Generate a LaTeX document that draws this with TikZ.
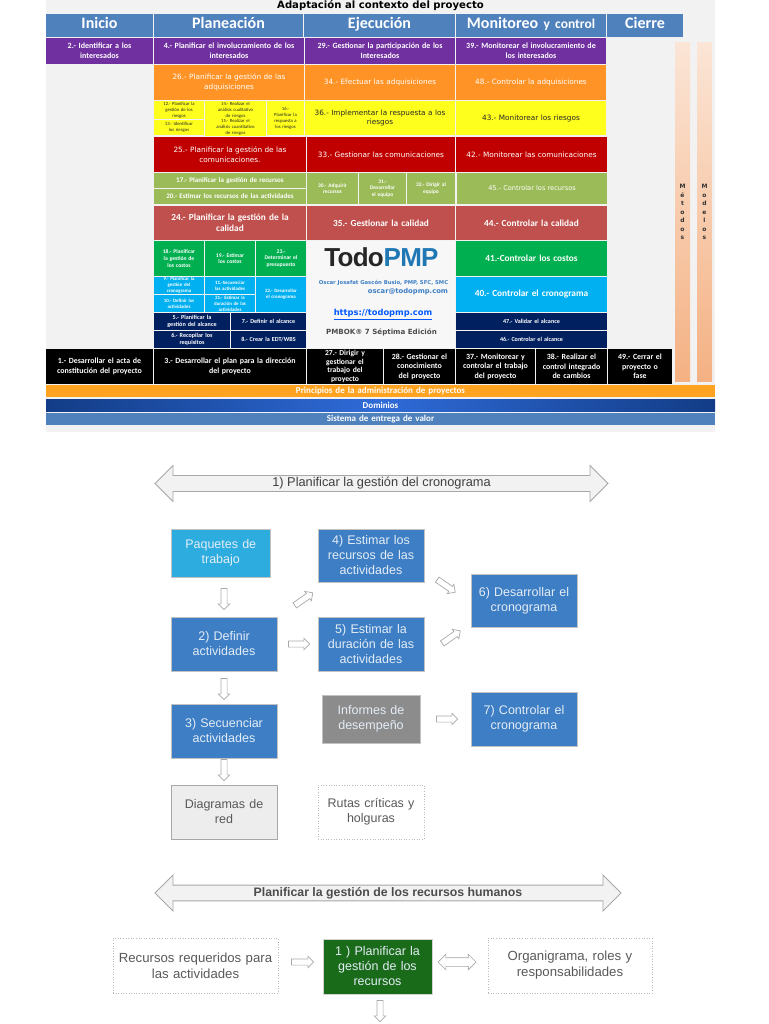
\documentclass[tikz,border=0pt]{standalone}
\usepackage{fontspec}
\setmainfont{Liberation Sans}
\newfontfamily\dvf{DejaVu Sans}
\newfontfamily\cbf{Carlito}
\usetikzlibrary{shapes.arrows}
\definecolor{hdr}{HTML}{4F81BD}
\definecolor{purp}{HTML}{7030A0}
\definecolor{orng}{HTML}{FF9326}
\definecolor{yell}{HTML}{FFFF1E}
\definecolor{redd}{HTML}{C00000}
\definecolor{lgrn}{HTML}{9BBB59}
\definecolor{brck}{HTML}{C0504D}
\definecolor{grn}{HTML}{00B050}
\definecolor{sky}{HTML}{00B0F0}
\definecolor{navy}{HTML}{002060}
\definecolor{flow}{HTML}{3D7EC4}
\definecolor{line}{HTML}{A8A8A8}
\definecolor{barend}{HTML}{123C86}
\definecolor{barmid}{HTML}{2F6BD8}
\definecolor{vtop}{HTML}{FBE5D6}
\definecolor{vbot}{HTML}{F4B183}
\definecolor{pale}{HTML}{E4EDF6}
\newcommand{\fsz}[2]{\fontsize{#1}{#2}\selectfont}
\newcommand{\cellbox}[7]{%
  \pgfmathsetmacro\cwd{#4-#2}\pgfmathsetmacro\cht{#5-#3}%
  \node[cellbase,#6,minimum width=\cwd pt,minimum height=\cht pt,text width=\cwd pt-3pt] (#1) at ({(#2+#4)/2},{(#3+#5)/2}) {#7};}
\tikzset{
  cellbase/.style={inner sep=0pt,outer sep=0pt,align=center,text=white},
  hd/.style={fill=hdr,font=\cbf\bfseries\fsz{16}{18},text height=10.5pt,text depth=3.5pt},
  dv/.style={font=\dvf\fsz{#1}{\fpeval{#1*1.35}}},
  cb/.style={font=\cbf\bfseries\fsz{#1}{\fpeval{#1*1.2}}},
  flowbox/.style={cellbase,fill=flow,draw=line!70,line width=.4pt,text=pale,font=\fsz{12.5}{15}},
  plainbox/.style={cellbase,text=black!65,font=\fsz{12.5}{15}},
  dotbox/.style={draw=line!80,dotted,line width=.6pt},
  blockarrow/.style={single arrow,draw=line,fill=white,line width=.7pt,inner sep=0pt,outer sep=0pt,single arrow head extend=2.6pt,single arrow tip angle=90},
  bigarrow/.style={double arrow,draw=line,fill=black!5,line width=.8pt,inner sep=0pt,outer sep=0pt,double arrow head extend=8pt,double arrow tip angle=90,minimum width=36pt},
}
\newcommand{\shaft}{\rule{0pt}{5.5pt}}
\begin{document}
\begin{tikzpicture}[x=1pt,y=-1pt]
\useasboundingbox (0,0) rectangle (768,1024);
\fill[black!5] (46,0) rectangle (715,432);
\node[inner sep=0pt,font=\dvf\bfseries\fsz{10.1}{12}] (title) at (380.5,6) {Adaptación al contexto del proyecto};
% headers
\cellbox{hA}{46}{14}{153}{37}{hd}{Inicio}
\cellbox{hB}{154}{14}{303}{37}{hd}{Planeación}
\cellbox{hC}{304}{14}{455}{37}{hd}{Ejecución}
\cellbox{hD}{456}{14}{606}{37}{hd}{Monitoreo {\fsz{13.5}{18}y control}}
\cellbox{hE}{607}{14}{683}{37}{hd}{Cierre}
% purple
\cellbox{p2}{46}{38}{153}{64}{fill=purp,cb=8}{2.- Identificar a los\\interesados}
\cellbox{p4}{154}{38}{304}{64}{fill=purp,cb=8}{4.- Planificar el involucramiento de los\\interesados}
\cellbox{p29}{305}{38}{455}{64}{fill=purp,cb=8}{29.- Gestionar la participación de los\\Interesados}
\cellbox{p39}{456}{38}{606}{64}{fill=purp,cb=8}{39.- Monitorear el involucramiento de\\los interesados}
% orange
\cellbox{o26}{154}{65}{304}{100}{fill=orng,dv=7.3}{26.- Planificar la gestión de las\\adquisiciones}
\cellbox{o34}{305}{65}{455}{100}{fill=orng,dv=7.3}{34.- Efectuar las adquisiciones}
\cellbox{o48}{456}{65}{606}{100}{fill=orng,dv=7.3}{48.- Controlar la adquisiciones}
% yellow
\tikzset{ys/.style={fill=yell,text=black!85,font=\cbf\fsz{4.7}{6}}}
\cellbox{y12}{154}{101}{204}{119}{ys}{12.- Planificar la\\gestión de los\\riesgos}
\cellbox{y13}{154}{120}{204}{135}{ys}{13.- Identificar\\los riesgos}
\cellbox{y14}{205}{101}{266}{119}{ys}{14.- Realizar el\\análisis cualitativo\\de riesgos}
\cellbox{y15}{205}{120}{266}{135}{ys}{15.- Realizar el\\análisis cuantitativo\\de riesgos}
\cellbox{y16}{267}{101}{304}{135}{ys}{16.-\\Planificar la\\respuesta a\\los riesgos}
\cellbox{y36}{305}{101}{455}{135}{fill=yell,text=black!85,dv=7.3}{36.- Implementar la respuesta a los\\riesgos}
\cellbox{y43}{456}{101}{606}{135}{fill=yell,text=black!85,dv=7.3}{43.- Monitorear los riesgos}
% red
\cellbox{r25}{154}{137}{306}{172}{fill=redd,dv=7.3}{25.- Planificar la gestión de las\\comunicaciones.}
\cellbox{r33}{307}{137}{455}{172}{fill=redd,dv=7.3}{33.- Gestionar las comunicaciones}
\cellbox{r42}{456}{137}{607}{172}{fill=redd,dv=7.3}{42.- Monitorear las comunicaciones}
% light green
\cellbox{g17}{154}{173}{306}{188}{fill=lgrn,cb=7}{17.- Planificar la gestión de recursos}
\cellbox{g20}{154}{189}{306}{204}{fill=lgrn,cb=7}{20.- Estimar los recursos de las actividades}
\cellbox{g30}{307}{173}{358}{204}{fill=lgrn,cb=5.4}{30.- Adquirir\\recursos}
\cellbox{g31}{359}{173}{406}{204}{fill=lgrn,cb=5.4}{31.-\\Desarrollar\\el equipo}
\cellbox{g32}{407}{173}{455}{204}{fill=lgrn,cb=5.4}{32.- Dirigir al\\equipo}
\cellbox{g45}{457}{173}{607}{204}{fill=lgrn,dv=6.6}{45.- Controlar los recursos}
% brick
\cellbox{b24}{154}{206}{306}{240}{fill=brck,cb=9.3}{24.- Planificar la gestión de la\\calidad}
\cellbox{b35}{307}{206}{455}{240}{fill=brck,cb=9.3}{35.- Gestionar la calidad}
\cellbox{b44}{456}{206}{607}{240}{fill=brck,cb=9.3}{44.- Controlar la calidad}
% costs
\cellbox{c18}{154}{241}{204}{276}{fill=grn,cb=5.6}{18.- Planificar\\la gestión de\\los costos}
\cellbox{c19}{205}{241}{255}{276}{fill=grn,cb=5.6}{19.- Estimar\\los costos}
\cellbox{c23}{256}{241}{306}{276}{fill=grn,cb=5.6}{23.-\\Determinar el\\presupuesto}
\cellbox{c41}{456}{241}{607}{276}{fill=grn,cb=9.3}{41.-Controlar los costos}
% schedule
\tikzset{sk/.style={fill=sky,cb=4.9}}
\cellbox{s9}{154}{277}{204}{294}{sk}{9.- Planificar la\\gestión del\\cronograma}
\cellbox{s10}{154}{295}{204}{312}{sk}{10.- Definir las\\actividades}
\cellbox{s11}{205}{277}{255}{294}{sk}{11.-Secuenciar\\las actividades}
\cellbox{s21}{205}{295}{255}{312}{sk}{21.- Estimar la\\duración de las\\actividades}
\cellbox{s22}{256}{277}{306}{312}{sk}{22.- Desarrollar\\el cronograma}
\cellbox{s40}{456}{277}{607}{312}{fill=sky,cb=9.3}{40.- Controlar el cronograma}
% scope
\tikzset{nv/.style={fill=navy,cb=6.1}}
\cellbox{n5}{154}{313}{230}{330}{nv}{5.- Planificar la\\gestión del alcance}
\cellbox{n6}{154}{331}{230}{348}{nv}{6.- Recopilar los\\requisitos}
\cellbox{n7}{231}{313}{306}{330}{nv}{7.- Definir el alcance}
\cellbox{n8}{231}{331}{306}{348}{nv}{8.- Crear la EDT/WBS}
\cellbox{n47}{456}{313}{607}{330}{nv}{47.- Validar el alcance}
\cellbox{n46}{456}{331}{607}{348}{nv}{46.- Controlar el alcance}
% logo panel
\fill[white!97!black] (307,241) rectangle (455,348);
\node[inner sep=0pt,font=\bfseries\fsz{26}{28}\addfontfeature{LetterSpace=-3}] (logo) at (381.5,257.5) {\textcolor{black!85}{Todo}\textcolor[HTML]{1F77B4}{PMP}};
\node[inner sep=0pt,text=flow,font=\dvf\bfseries\fsz{5.3}{6}] (auth) at (383.5,283) {Oscar Josafat Gascón Busio, PMP, SFC, SMC};
\node[inner sep=0pt,text=flow,font=\dvf\bfseries\fsz{6.8}{8}] (mail) at (408,292) {oscar@todopmp.com};
\node[inner sep=0pt,text=blue!65!cyan,font=\dvf\bfseries\fsz{8.3}{10}] (url) at (383,314.5) {\underline{https://todopmp.com}};
\node[inner sep=0pt,text=black!70,font=\dvf\bfseries\fsz{7.1}{8}] (ed) at (381.5,332) {PMBOK® 7 Séptima Edición};
% black
\tikzset{bk/.style={fill=black,cb=7.9}}
\cellbox{k1}{46}{349}{153}{384}{bk}{1.- Desarrollar el acta de\\constitución del proyecto}
\cellbox{k3}{154}{349}{306}{384}{bk}{3.- Desarrollar el plan para la dirección\\del proyecto}
\cellbox{k27}{307}{349}{383}{384}{fill=black,font=\cbf\bfseries\fsz{7.6}{8.6}}{27.- Dirigir y\\gestionar el\\trabajo del\\proyecto}
\cellbox{k28}{384}{349}{455}{384}{bk}{28.- Gestionar el\\conocimiento\\del proyecto}
\cellbox{k37}{456}{349}{535}{384}{bk}{37.- Monitorear y\\controlar el trabajo\\del proyecto}
\cellbox{k38}{536}{349}{607}{384}{bk}{38.- Realizar el\\control integrado\\de cambios}
\cellbox{k49}{608}{349}{672}{384}{bk}{49.- Cerrar el\\proyecto o\\fase}
% bars
\tikzset{barfont/.style={font=\cbf\bfseries\fsz{9}{10}}}
\cellbox{barA}{46}{385}{715}{397}{fill=orng!85!yellow,barfont}{Principios de la administración de proyectos}
\cellbox{barB}{46}{399}{715}{411}{left color=barend,right color=barend,middle color=barmid,barfont}{Dominios}
\cellbox{barC}{46}{413}{715}{425}{fill=hdr,barfont}{Sistema de entrega de valor}
\tikzset{vbar/.style={top color=vtop,bottom color=vbot,text=black!80,font=\dvf\bfseries\fsz{6}{8.5}}}
\cellbox{vM}{675}{43}{690}{381}{vbar}{M\\é\\t\\o\\d\\o\\s}
\cellbox{vO}{697}{43}{712}{381}{vbar}{M\\o\\d\\e\\l\\o\\s}
% first flow
\node[bigarrow,minimum height=453pt,font=\fsz{12.8}{15},text=black!75] (arr1) at (381.5,483.5) {1) Planificar la gestión del cronograma};
\cellbox{pq}{171.5}{529}{270}{577}{flowbox,fill=cyan!80!teal!90!white}{Paquetes de\\trabajo}
\cellbox{a2}{171}{617}{277}{671}{flowbox}{2) Definir\\actividades}
\cellbox{a3}{171}{704}{277}{758}{flowbox}{3) Secuenciar\\actividades}
\cellbox{a4}{318}{529}{424}{582}{flowbox}{4) Estimar los\\recursos de las\\actividades}
\cellbox{a5}{318}{617}{424}{671}{flowbox}{5) Estimar la\\duración de las\\actividades}
\cellbox{a6}{471}{574}{577}{627}{flowbox}{6) Desarrollar el\\cronograma}
\cellbox{inf}{322}{695}{420}{743}{flowbox,fill=black!45}{Informes de\\desempeño}
\cellbox{a7}{471}{692}{577}{746}{flowbox}{7) Controlar el\\cronograma}
\cellbox{dg}{171}{785}{277}{839}{plainbox,fill=black!7,draw=line}{Diagramas de\\red}
\cellbox{rt}{318}{785}{424}{839}{plainbox,dotbox}{Rutas críticas y\\holguras}
\node[blockarrow,minimum height=21pt,rotate=-90] (q1) at (224,597.5) {\shaft};
\node[blockarrow,minimum height=21pt,rotate=-90] (q2) at (224,687.5) {\shaft};
\node[blockarrow,minimum height=21pt,rotate=-90] (q3) at (224,768.5) {\shaft};
\node[blockarrow,minimum height=22pt,rotate=35] (q4) at (302.5,600) {\shaft};
\node[blockarrow,minimum height=21pt] (q5) at (297.5,644) {\shaft};
\node[blockarrow,minimum height=22pt,rotate=-35] (q6) at (445,585) {\shaft};
\node[blockarrow,minimum height=22pt,rotate=35] (q7) at (450,638) {\shaft};
\node[blockarrow,minimum height=21pt] (q8) at (445.5,719) {\shaft};
% second flow
\node[bigarrow,minimum height=466pt,font=\bfseries\fsz{12.3}{15},text=black!70] (arr2) at (388,893) {Planificar la gestión de los recursos humanos};
\cellbox{rq}{113}{938}{278}{993}{plainbox,dotbox,font=\fsz{13.2}{16}}{Recursos requeridos para\\las actividades}
\cellbox{pl}{323}{939}{432}{994}{flowbox,fill=green!35!black!90,draw=line!50}{1 ) Planificar la\\gestión de los\\recursos}
\cellbox{og}{488}{938}{652}{993}{plainbox,dotbox,font=\fsz{13.2}{16}}{Organigrama, roles y\\responsabilidades}
\node[blockarrow,minimum height=22pt] (z1) at (301,962) {\shaft};
\node[double arrow,draw=line,fill=white,line width=.7pt,inner sep=0pt,minimum height=38pt,double arrow head extend=3.5pt,double arrow tip angle=90] (z2) at (457,962) {\rule{0pt}{8pt}};
\node[blockarrow,minimum height=21pt,rotate=-90] (z3) at (380,1009.5) {\shaft};
\end{tikzpicture}
\end{document}
